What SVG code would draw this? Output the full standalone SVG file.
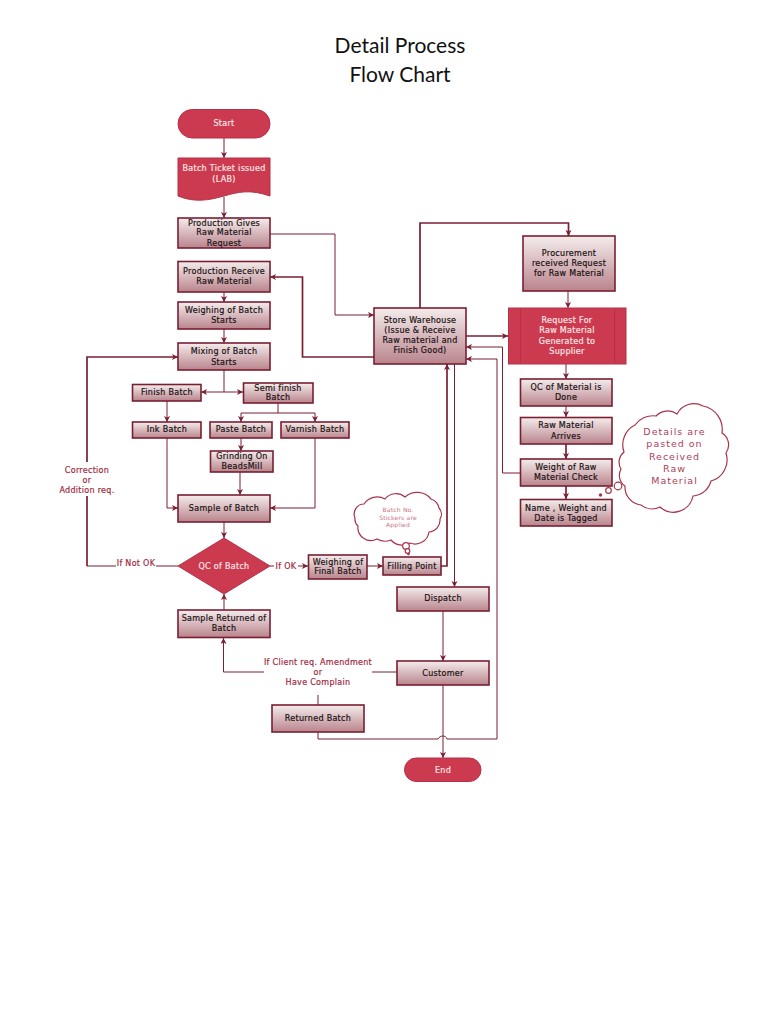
<svg xmlns="http://www.w3.org/2000/svg" width="768" height="1024" viewBox="0 0 768 1024">
<style>
text{font-family:"DejaVu Sans","Liberation Sans",sans-serif;font-size:8px;letter-spacing:.3px;text-anchor:middle;fill:#1c1214;stroke:#1c1214;stroke-width:.2}
.title{font-family:Lato,"Open Sans",sans-serif;font-size:21px;letter-spacing:0;fill:#111;stroke:none}
.box{fill:url(#g);stroke:#7a1f32;stroke-width:1.6}
.red{fill:#cb3a4e;stroke:#b5304a;stroke-width:1}
.w{fill:#fbe4e6;stroke:#fbe4e6}
.lab{fill:#a02c42;stroke:#a02c42}
.c{fill:none;stroke:#7a1f32;stroke-width:1;marker-end:url(#a)}
.n{fill:none;stroke:#7a1f32;stroke-width:1}
.t{fill:none;stroke:#7a1f32;stroke-width:1.7;marker-end:url(#a)}
.cl{fill:#fff;stroke:#a8324a;stroke-width:1.200}
.ct{fill:#b0405a;stroke:none;font-size:9.5px;letter-spacing:1px}
.cs{fill:#c87082;stroke:none;font-size:6px;letter-spacing:.2px}
</style>
<defs>
<linearGradient id="g" x1="0" y1="0" x2="0" y2="1"><stop offset="0" stop-color="#f4ecec"/><stop offset="1" stop-color="#b9848c"/></linearGradient>
<marker id="a" markerUnits="userSpaceOnUse" markerWidth="7" markerHeight="7" refX="6" refY="3" orient="auto"><path d="M0 0L6 3L0 6L1.500 3Z" fill="#7a1f32"/></marker>
</defs>
<text class="title" x="400" y="53">Detail Process</text>
<text class="title" x="400" y="82">Flow Chart</text>

<g id="connectors">
<path class="c" d="M224 138V158"/>
<path class="c" d="M224 197V218"/>
<path class="n" d="M270 234H335V315"/><path class="c" d="M335 315H374"/>
<path class="t" d="M374 357H302.500V277H270"/>
<path class="c" d="M224 292V302"/>
<path class="c" d="M224 329V343"/>
<path class="t" d="M87 566V357H178"/>
<path class="n" d="M224 370V392"/>
<path class="c" d="M224 392H201"/>
<path class="c" d="M224 392H243"/>
<path class="n" d="M278 403V413M241 413H315"/>
<path class="c" d="M241 413V422"/>
<path class="c" d="M315 413V422"/>
<path class="c" d="M167 401V422"/>
<path class="c" d="M241 438V451"/>
<path class="c" d="M240 472V495"/>
<path class="c" d="M167 438V508H178"/>
<path class="c" d="M315 438V508H270"/>
<path class="c" d="M224 522V538"/>
<path class="c" d="M224 610V594"/>
<path class="n" d="M178 566H87"/>
<path class="c" d="M270 566H308"/>
<path class="c" d="M367 566H383"/>
<path class="t" d="M441 566H447V364"/>
<path class="c" d="M454.500 364V587"/>
<path class="t" d="M420 308V223H568.500V236"/>
<path class="c" d="M568 291V308"/>
<path class="t" d="M466 336H508"/>
<path class="c" d="M566 364V379"/>
<path class="c" d="M566 406V417"/>
<path class="t" d="M566 444V459"/>
<path class="t" d="M566 486V499"/>
<path class="c" d="M520 473H502.500V347H466"/>
<path class="c" d="M318 732V739H438C440 735 446 735 447 739H497V359H466"/>
<path class="c" d="M443 611V661"/>
<path class="c" d="M443 685V758"/>
<path class="c" d="M397 672H223.500V638"/>
<path class="n" d="M318 695V705"/>
</g>

<g id="start"><rect class="red" x="178" y="109.500" width="92" height="28.500" rx="14.200"/><text class="w" x="224" y="125.500">Start</text></g>
<g id="ticket"><path class="red" d="M178 158H270V196C250 189 238 192 224 196C210 200 195 203 178 196Z"/><text class="w" x="224" y="171">Batch Ticket issued</text><text class="w" x="224" y="182">(LAB)</text></g>
<g id="prod-gives"><rect class="box" x="178" y="218" width="92" height="30"/><text x="224" y="225.500">Production Gives</text><text x="224" y="235">Raw Material</text><text x="224" y="245.500">Request</text></g>
<g id="prod-receive"><rect class="box" x="178" y="261.500" width="92" height="30.500"/><text x="224" y="274">Production Receive</text><text x="224" y="284">Raw Material</text></g>
<g id="weighing"><rect class="box" x="178" y="302" width="92" height="27"/><text x="224" y="313">Weighing of Batch</text><text x="224" y="323">Starts</text></g>
<g id="mixing"><rect class="box" x="178" y="343" width="92" height="27"/><text x="224" y="354">Mixing of Batch</text><text x="224" y="364.500">Starts</text></g>
<g id="finish"><rect class="box" x="132.500" y="384.500" width="68.500" height="16.500"/><text x="167" y="395">Finish Batch</text></g>
<g id="semi"><rect class="box" x="243.500" y="383" width="69.500" height="20"/><text x="278" y="390.500">Semi finish</text><text x="278" y="400">Batch</text></g>
<g id="ink"><rect class="box" x="132.500" y="422" width="68.500" height="16"/><text x="167" y="432">Ink Batch</text></g>
<g id="paste"><rect class="box" x="210" y="422" width="62" height="16"/><text x="241" y="432">Paste Batch</text></g>
<g id="varnish"><rect class="box" x="281" y="422" width="68" height="16"/><text x="315" y="432">Varnish Batch</text></g>
<g id="grinding"><rect class="box" x="210.500" y="451" width="62.500" height="21"/><text x="242" y="459">Grinding On</text><text x="242" y="469">BeadsMill</text></g>
<g id="sample"><rect class="box" x="178" y="495" width="92" height="27"/><text x="224" y="511">Sample of Batch</text></g>
<g id="qc-batch"><path class="red" d="M224 538L270 566L224 594L178 566Z"/><text class="w" x="224" y="569">QC of Batch</text></g>
<g id="sample-returned"><rect class="box" x="178" y="610" width="92" height="27.500"/><text x="224" y="621">Sample Returned of</text><text x="224" y="631">Batch</text></g>
<g id="weigh-final"><rect class="box" x="308.500" y="555" width="58.500" height="24"/><text x="338" y="564.500">Weighing of</text><text x="338" y="574">Final Batch</text></g>
<g id="filling"><rect class="box" x="383" y="557" width="58" height="18"/><text x="412" y="569">Filling Point</text></g>
<g id="note-stickers"><path class="cl" d="M358 526A9 9 0 0 1 355 518A10 10 0 0 1 364 504A16 16 0 0 1 385 499A14 14 0 0 1 405 497A18 18 0 0 1 431 499A12 12 0 0 1 439 508A9 9 0 0 1 440 519A12 12 0 0 1 429 532A14 14 0 0 1 410 543A15 15 0 0 1 391 540A16 16 0 0 1 377 539A13 13 0 0 1 358 526Z"/><circle class="cl" cx="406" cy="546" r="3.300"/><circle class="cl" cx="407.500" cy="551" r="2.300"/><circle cx="408.500" cy="554" r="1.300" fill="#a8324a"/><text class="cs" x="398" y="512">Batch No.</text><text class="cs" x="398" y="520">Stickers are</text><text class="cs" x="398" y="527">Applied</text></g>
<g id="store"><rect class="box" x="374" y="308" width="92" height="56"/><text x="420" y="323">Store Warehouse</text><text x="420" y="333">(Issue &amp; Receive</text><text x="420" y="343">Raw material and</text><text x="420" y="353">Finish Good)</text></g>
<g id="procurement"><rect class="box" x="523" y="236" width="92" height="55"/><text x="569" y="256">Procurement</text><text x="569" y="265.500">received Request</text><text x="569" y="276">for Raw Material</text></g>
<g id="request"><rect class="red" x="508.500" y="308" width="117.500" height="56"/><path d="M520.500 308V364M614.500 308V364" fill="none" stroke="#b5304a"/><text class="w" x="567" y="323">Request For</text><text class="w" x="567" y="333">Raw Material</text><text class="w" x="567" y="344">Generated to</text><text class="w" x="567" y="353.500">Supplier</text></g>
<g id="qc-material"><rect class="box" x="520.500" y="379" width="91.500" height="27"/><text x="566" y="390">QC of Material is</text><text x="566" y="400">Done</text></g>
<g id="arrives"><rect class="box" x="520.500" y="417.500" width="91.500" height="26.500"/><text x="566" y="428">Raw Material</text><text x="566" y="438.500">Arrives</text></g>
<g id="weight-check"><rect class="box" x="520.500" y="459" width="91.500" height="27"/><text x="566" y="470">Weight of Raw</text><text x="566" y="479.500">Material Check</text></g>
<g id="tagged"><rect class="box" x="520.500" y="499.500" width="91.500" height="26.500"/><text x="566" y="511">Name , Weight and</text><text x="566" y="520.500">Date is Tagged</text></g>
<g id="note-details"><path class="cl" d="M625 486A13 13 0 0 1 621 469A13 13 0 0 1 624 452A22 22 0 0 1 635 425A22 22 0 0 1 656 416A16 16 0 0 1 677 414A19 19 0 0 1 703 406A24 24 0 0 1 722 433A14 14 0 0 1 726 453A22 22 0 0 1 711 481A20 20 0 0 1 693 496A20 20 0 0 1 660 507A18 18 0 0 1 641 505A18 18 0 0 1 625 486Z"/><circle class="cl" cx="618" cy="486" r="3.800"/><circle class="cl" cx="608.500" cy="490.500" r="2.800"/><circle cx="600.500" cy="495" r="1.700" fill="#a8324a"/><text class="ct" x="674.500" y="435">Details are</text><text class="ct" x="674.500" y="447">pasted on</text><text class="ct" x="674.500" y="459.500">Received</text><text class="ct" x="674.500" y="472">Raw</text><text class="ct" x="674.500" y="484">Material</text></g>
<g id="dispatch"><rect class="box" x="397" y="587" width="92" height="24"/><text x="443" y="601">Dispatch</text></g>
<g id="customer"><rect class="box" x="397" y="661" width="92" height="24"/><text x="443" y="676">Customer</text></g>
<g id="returned"><rect class="box" x="272" y="705" width="92" height="27"/><text x="318" y="721">Returned Batch</text></g>
<g id="end"><rect class="red" x="404.500" y="758" width="76.500" height="23.500" rx="11.700"/><text class="w" x="443" y="773">End</text></g>

<g id="labels">
<rect x="58" y="462" width="58" height="34" fill="#fff"/>
<rect x="116" y="558" width="40" height="12" fill="#fff"/>
<rect x="274" y="560" width="24" height="11" fill="#fff"/>
<rect x="264" y="656" width="108" height="38" fill="#fff"/>
<text class="lab" x="87" y="473">Correction</text><text class="lab" x="87" y="483">or</text><text class="lab" x="87" y="493">Addition req.</text>
<text class="lab" x="136" y="566">If Not OK</text>
<text class="lab" x="286" y="569">If OK</text>
<text class="lab" x="318" y="665">If Client req. Amendment</text><text class="lab" x="318" y="675">or</text><text class="lab" x="318" y="685">Have Complain</text>
</g>
</svg>
